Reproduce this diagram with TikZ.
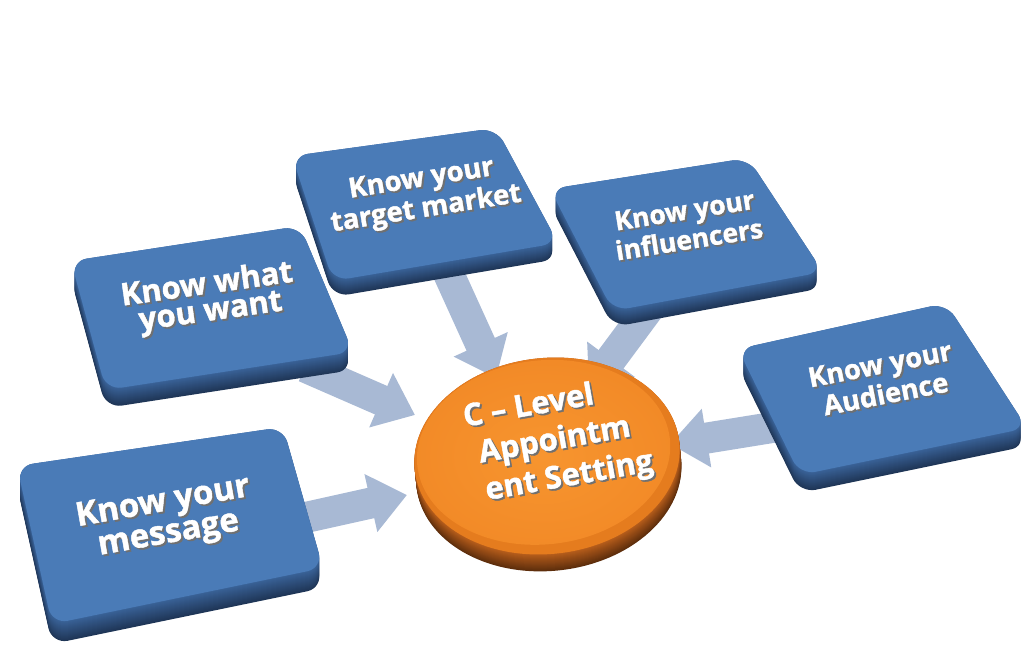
\documentclass[tikz,border=0pt]{standalone}
\usepackage{fontspec}
\setmainfont{Open Sans}[BoldFeatures={FakeBold=1.3}]
\usetikzlibrary{arrows.meta}
\definecolor{facecol}{HTML}{4A7BB7}
\definecolor{slablight}{HTML}{3A6399}
\definecolor{slabdark}{HTML}{1F3657}
\definecolor{arrowcol}{HTML}{A8B9D4}
\definecolor{orangetop}{HTML}{F28A27}
\definecolor{orangelight}{HTML}{F7952F}
\definecolor{orangeedge}{HTML}{E57C1E}
\definecolor{discside1}{HTML}{B85E1C}
\definecolor{discside2}{HTML}{5E2E0C}
\definecolor{shcol}{HTML}{707070}
\newcommand\sh[1]{\leavevmode\rlap{\kern1.6pt\raisebox{-2pt}{\color{shcol}#1}}{\color{white}#1}}
\newcommand\bluebox[5]{%
  \foreach \i [evaluate=\i as \d using int(#5-\i), evaluate=\i as \p using int(100-100*\i/#5)] in {0,...,#5}{%
    \fill[slabdark!\p!slablight, shift={(0,\d)}, rounded corners=16pt] #1 -- #2 -- #3 -- #4 -- cycle;}
  \fill[facecol, rounded corners=16pt] #1 -- #2 -- #3 -- #4 -- cycle;}
\tikzset{
  lbl/.style={align=center, inner sep=0pt, font=\bfseries},
  flow/.style={draw=arrowcol, line width=31pt, -{Triangle[width=57pt,length=37pt]}}
}
\begin{document}
\begin{tikzpicture}[x=1pt,y=-1pt]
\useasboundingbox (0,0) rectangle (1028,654);
% arrow end points
\coordinate (msg-o) at (290,521);
\coordinate (hub-w) at (407,495);
\coordinate (want-o) at (305,367);
\coordinate (hub-nw) at (415,415);
\coordinate (mkt-o) at (446,268);
\coordinate (hub-n) at (496,378);
\coordinate (inf-o) at (655,300);
\coordinate (hub-ne) at (589,389);
\coordinate (aud-o) at (800,423);
\coordinate (hub-e) at (670,444);
% connectors
\draw[flow] (msg-o) -- (hub-w);
\draw[flow] (want-o) -- (hub-nw);
\draw[flow] (mkt-o) -- (hub-n);
\draw[flow] (inf-o) -- (hub-ne);
\draw[flow] (aud-o) -- (hub-e);
% boxes
\bluebox{(71,261)}{(300,226)}{(353,352)}{(106,390)}{18}
\bluebox{(292,156)}{(496,128)}{(558,243)}{(333,281)}{16}
\bluebox{(550,189)}{(748,158)}{(823,272)}{(613,311)}{16}
\bluebox{(738,349)}{(946,303)}{(1027,428)}{(800,475)}{18}
\bluebox{(17,466)}{(283,427)}{(323,568)}{(52,624)}{20}
% disc
\begin{scope}[shift={(547,456)}, rotate=6]
  \foreach \i [evaluate=\i as \d using int(17-\i), evaluate=\i as \p using int(100-100*\i/17)] in {0,...,17}{%
    \fill[discside2!\p!discside1] (0,\d) ellipse [x radius=133, y radius=98];}
  \fill[orangeedge] (0,0) ellipse [x radius=133, y radius=98];
  \shade[inner color=orangelight, outer color=orangetop] (-3,-4) ellipse [x radius=127, y radius=92];
\end{scope}
% labels
\node[lbl, font=\bfseries\fontsize{33}{32}\selectfont, rotate=10] (msg) at (166,520) {\sh{Know your}\\\sh{message}};
\node[lbl, font=\bfseries\fontsize{31}{27}\selectfont, rotate=8] (want) at (209,300) {\sh{Know what}\\\sh{you want}};
\node[lbl, font=\bfseries\fontsize{27.5}{27}\selectfont, rotate=9] (mkt) at (424,196) {\sh{Know your}\\\sh{target market}};
\node[lbl, font=\bfseries\fontsize{26.5}{27}\selectfont, rotate=9] (inf) at (687,226) {\sh{Know your}\\\sh{influencers}};
\node[lbl, font=\bfseries\fontsize{27.3}{29}\selectfont, rotate=11] (aud) at (883,380) {\sh{Know your}\\\sh{Audience}};
\node[lbl, align=left, font=\bfseries\fontsize{31}{38}\selectfont, rotate=10] (hub) at (563,441) {\hspace*{-9pt}\sh{C – Level}\\\sh{Appointm}\\\sh{ent Setting}};
\end{tikzpicture}
\end{document}
